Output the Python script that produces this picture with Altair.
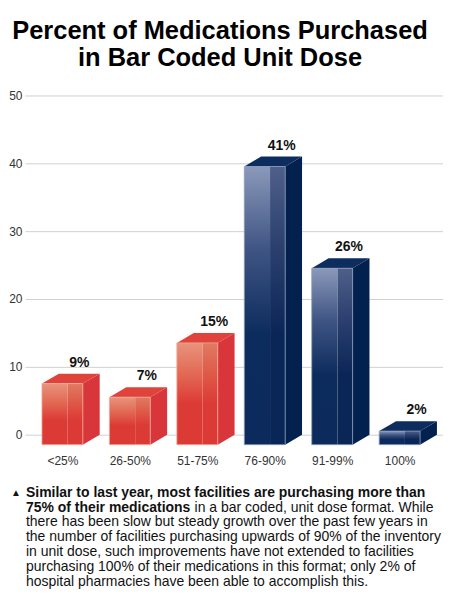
import pandas as pd
import altair as alt

# Data
categories = ['<25%', '26-50%', '51-75%', '76-90%', '91-99%', '100%']
values = [9, 7, 15, 41, 26, 2]
groups = ['red', 'red', 'red', 'blue', 'blue', 'blue']

# 3D look: half width of front face, depth in x units, depth in y units
HALF = 0.303
DX = 0.25
DY = 1.47
SPLIT = 0.63

palettes = {
    'red': dict(light=['#e8937c', '#e26a55', '#dc3a35', '#dc3a35'],
                right=['#e07a62', '#de5a48', '#dc3a35', '#dc3a35'],
                side='#d8363a', top='#e0433c', edge='#f3a898'),
    'blue': dict(light=['#8b99ba', '#3e5483', '#0d2c5e', '#0c2b5c'],
                 right=['#4e5f89', '#2a3f6e', '#0a2657', '#0a2657'],
                 side='#03214f', top='#0d2d5f', edge='#8d9bbb'),
}

df = pd.DataFrame({'cat': categories, 'value': values, 'group': groups})
df['idx'] = range(len(df))

# front faces (shifted down by the depth)
front = df.copy()
front['x'] = front['idx'] - HALF
front['xs'] = front['idx'] - HALF + 2 * HALF * SPLIT
front['x2'] = front['idx'] + HALF
front['y'] = front['value'] - DY
front['y2'] = -DY

# side faces: two vertices each
side_rows = []
for _, r in df.iterrows():
    side_rows.append(dict(cat=r['cat'], group=r['group'], x=r['idx'] + HALF, y=r['value'] - DY, y2=-DY))
    side_rows.append(dict(cat=r['cat'], group=r['group'], x=r['idx'] + HALF + DX, y=r['value'], y2=0))
side = pd.DataFrame(side_rows)

# top faces: four vertices each
top_rows = []
for _, r in df.iterrows():
    v = r['value']
    for xx, up, lo in [(r['idx'] - HALF, v - DY, v - DY),
                       (r['idx'] - HALF + DX, v, v - DY),
                       (r['idx'] + HALF, v, v - DY),
                       (r['idx'] + HALF + DX, v, v)]:
        top_rows.append(dict(cat=r['cat'], group=r['group'], x=xx, y=up, y2=lo))
top = pd.DataFrame(top_rows)

labels = df.copy()
labels['x'] = labels['idx'] + DX
labels['y'] = labels['value']
labels['label'] = labels['value'].astype(str) + '%'

label_expr = '[' + ','.join("'%s'" % c for c in categories) + '][datum.value]'

x_enc = alt.X('x:Q', title=None,
              scale=alt.Scale(domain=[-0.555, 5.643], nice=False, zero=False),
              axis=alt.Axis(values=list(range(len(categories))), labelExpr=label_expr,
                            grid=False, ticks=False, domain=False, labelPadding=21,
                            labelFontSize=12, labelColor='#333333'))
y_enc = alt.Y('y:Q', title=None,
              scale=alt.Scale(domain=[0, 50], nice=False),
              axis=alt.Axis(values=[0, 10, 20, 30, 40, 50], grid=True, gridColor='#d0d0d0',
                            ticks=False, domain=False, labelPadding=3,
                            labelFontSize=12, labelColor='#333333'))


def grad(colors, offsets=(0, 0.3, 0.6, 1)):
    return alt.Gradient(gradient='linear', x1=0, x2=0, y1=0, y2=1,
                        stops=[alt.GradientStop(color=c, offset=o) for c, o in zip(colors, offsets)])


layers = []
for g, pal in palettes.items():
    f = front[front['group'] == g]
    layers.append(alt.Chart(side[side['group'] == g]).mark_area(color=pal['side']).encode(
        x=x_enc, y=y_enc, y2='y2:Q', detail='cat:N'))
    layers.append(alt.Chart(top[top['group'] == g]).mark_area(color=pal['top']).encode(
        x=x_enc, y=y_enc, y2='y2:Q', detail='cat:N'))
    layers.append(alt.Chart(f).mark_rect(fill=grad(pal['light'])).encode(
        x=x_enc, x2='xs:Q', y=y_enc, y2='y2:Q'))
    layers.append(alt.Chart(f).mark_rect(fill=grad(pal['right'])).encode(
        x=alt.X('xs:Q'), x2='x2:Q', y=y_enc, y2='y2:Q'))
    layers.append(alt.Chart(f).mark_rect(fillOpacity=0, stroke=pal['edge'], strokeWidth=0.8).encode(
        x=x_enc, x2='x2:Q', y=y_enc, y2='y2:Q'))

value_text = alt.Chart(labels).mark_text(fontSize=14, fontWeight='bold', baseline='bottom',
                                         dy=-4, color='#111111').encode(
    x=x_enc, y=y_enc, text='label:N')
layers.append(value_text)

# caption under the chart
caption_bold = ['Similar to last year, most facilities are purchasing more than',
                '75% of their medications']
caption_rest = [' in a bar coded, unit dose format. While',
                'there has been slow but steady growth over the past few years in',
                'the number of facilities purchasing upwards of 90% of the inventory',
                'in unit dose, such improvements have not extended to facilities',
                'purchasing 100% of their medications in this format; only 2% of',
                'hospital pharmacies have been able to accomplish this.']

base_y = 402
line_h = 15
cap_x = 1


def cap(text, x, y, weight='normal', size=14):
    return alt.Chart(pd.DataFrame({'t': [text]})).mark_text(
        align='left', baseline='alphabetic', fontSize=size, fontWeight=weight,
        color='#111111').encode(x=alt.value(x), y=alt.value(y), text='t:N')


layers.append(cap('\u25b2', -14, base_y - 1, size=10))
layers.append(cap(caption_bold[0], cap_x, base_y, 'bold'))
layers.append(cap(caption_bold[1], cap_x, base_y + line_h, 'bold'))
layers.append(cap(caption_rest[0], 170, base_y + line_h))
for k, line in enumerate(caption_rest[1:]):
    layers.append(cap(line, cap_x, base_y + line_h * (k + 2)))

chart = alt.layer(*layers).properties(
    width=419, height=340,
    title=alt.TitleParams(['Percent of Medications Purchased', 'in Bar Coded Unit Dose'],
                          fontSize=25.5, fontWeight='bold', color='#000000', lineHeight=27,
                          anchor='middle', frame='group', dx=-14, offset=18),
    padding={'left': 0, 'top': 10, 'right': 0, 'bottom': 5}
).configure(font='Liberation Sans').configure_view(stroke=None)

chart.save("out.html", embed_options={"renderer": "svg", "actions": False})
